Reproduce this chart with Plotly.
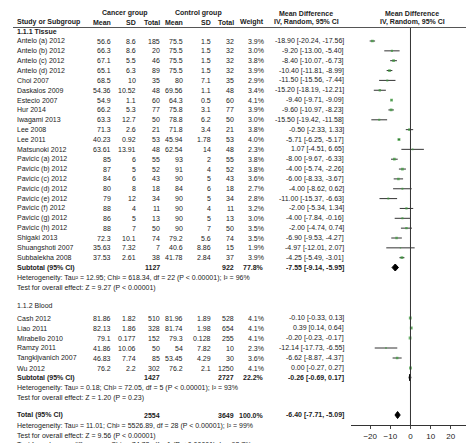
import plotly.graph_objects as go

W, H = 474, 443

# tissue studies
tissue_study = ["Antelo (a) 2012", "Antelo (b) 2012", "Antelo (c) 2012", "Antelo (d) 2012", "Choi 2007",
                "Daskalos 2009", "Estecio 2007", "Hur 2014", "Iwagami 2013", "Lee 2008", "Lee 2011",
                "Matsunoki 2012", "Pavicic (a) 2012", "Pavicic (b) 2012", "Pavicic (c) 2012", "Pavicic (d) 2012",
                "Pavicic (e) 2012", "Pavicic (f) 2012", "Pavicic (g) 2012", "Pavicic (h) 2012", "Shigaki 2013",
                "Shuangshoti 2007", "Subbalekha 2008"]
tissue_ca_mean = ["56.6", "66.3", "67.1", "65.1", "68.5", "54.36", "54.9", "66.2", "63.3", "71.3", "40.23", "63.61",
                  "85", "87", "84", "80", "79", "88", "86", "88", "72.3", "35.63", "37.53"]
tissue_ca_sd = ["8.6", "8.6", "5.5", "6.3", "10", "10.52", "1.1", "5.3", "12.7", "2.6", "0.92", "13.91",
                "6", "5", "6", "8", "12", "4", "5", "7", "10.1", "7.32", "2.61"]
tissue_ca_n = ["185", "20", "46", "89", "35", "48", "60", "77", "50", "21", "53", "48",
               "55", "52", "43", "18", "34", "11", "13", "50", "74", "7", "38"]
tissue_co_mean = ["75.5", "75.5", "75.5", "75.5", "80", "69.56", "64.3", "75.8", "78.8", "71.8", "45.94", "62.54",
                  "93", "91", "90", "84", "90", "90", "90", "90", "79.2", "40.6", "41.78"]
tissue_co_sd = ["1.5", "1.5", "1.5", "1.5", "7.1", "1.1", "0.5", "3.1", "6.2", "3.4", "1.78", "14",
                "2", "4", "5", "6", "5", "4", "5", "7", "5.6", "8.86", "2.84"]
tissue_co_n = ["32", "32", "32", "32", "35", "48", "60", "77", "50", "21", "53", "48",
               "55", "52", "43", "18", "34", "11", "13", "50", "74", "15", "37"]
tissue_w = [3.9, 3.0, 3.8, 3.9, 2.9, 3.4, 4.1, 3.9, 3.0, 3.8, 4.0, 2.3,
            3.8, 3.8, 3.6, 2.7, 2.8, 3.2, 3.0, 3.5, 3.5, 1.9, 3.9]
tissue_md = [-18.90, -9.20, -8.40, -10.40, -11.50, -15.20, -9.40, -9.60, -15.50, -0.50, -5.71, 1.07,
             -8.00, -4.00, -6.00, -4.00, -11.00, -2.00, -4.00, -2.00, -6.90, -4.97, -4.25]
tissue_lo = [-20.24, -13.00, -10.07, -11.81, -15.56, -18.19, -9.71, -10.97, -19.42, -2.33, -6.25, -4.51,
             -9.67, -5.74, -8.33, -8.62, -15.37, -5.34, -7.84, -4.74, -9.53, -12.01, -5.49]
tissue_hi = [-17.56, -5.40, -6.73, -8.99, -7.44, -12.21, -9.09, -8.23, -11.58, 1.33, -5.17, 6.65,
             -6.33, -2.26, -3.67, 0.62, -6.63, 1.34, -0.16, 0.74, -4.27, 2.07, -3.01]

# blood studies
blood_study = ["Cash 2012", "Liao 2011", "Mirabello 2010", "Ramzy 2011", "Tangkijvanich 2007", "Wu 2012"]
blood_ca_mean = ["81.86", "82.13", "79.1", "41.86", "46.83", "76.2"]
blood_ca_sd = ["1.82", "1.86", "0.177", "10.06", "7.74", "2.2"]
blood_ca_n = ["510", "328", "152", "50", "85", "302"]
blood_co_mean = ["81.96", "81.74", "79.3", "54", "53.45", "76.2"]
blood_co_sd = ["1.89", "1.98", "0.128", "7.82", "4.29", "2.1"]
blood_co_n = ["528", "654", "255", "10", "30", "1250"]
blood_w = [4.1, 4.1, 4.1, 2.3, 3.6, 4.1]
blood_md = [-0.10, 0.39, -0.20, -12.14, -6.62, 0.00]
blood_lo = [-0.33, 0.14, -0.23, -17.73, -8.87, -0.27]
blood_hi = [0.13, 0.64, -0.17, -6.55, -4.37, 0.27]

# pooled
pooled_name = ["Subtotal (95% CI)", "Subtotal (95% CI)", "Total (95% CI)"]
pooled_ca_n = ["1127", "1427", "2554"]
pooled_co_n = ["922", "2727", "3649"]
pooled_w = ["77.8%", "22.2%", "100.0%"]
pooled_md = [-7.55, -0.26, -6.40]
pooled_lo = [-9.14, -0.69, -7.71]
pooled_hi = [-5.95, 0.17, -5.09]

notes = {
    270: "Heterogeneity: Tau² = 12.95; Chi² = 618.34, df = 22 (P < 0.00001); I² = 96%",
    280: "Test for overall effect: Z = 9.27 (P < 0.00001)",
    380: "Heterogeneity: Tau² = 0.18; Chi² = 72.05, df = 5 (P < 0.00001); I² = 93%",
    390: "Test for overall effect: Z = 1.20 (P = 0.23)",
    418: "Heterogeneity: Tau² = 11.01; Chi² = 5526.89, df = 28 (P < 0.00001); I² = 99%",
    428: "Test for overall effect: Z = 9.56 (P < 0.00001)",
    437: "Test for subgroup differences: Chi² = 74.73, df = 1 (P < 0.00001), I² = 98.7%",
}

tissue_y = [33 + 9.85 * i for i in range(len(tissue_study))]
blood_y = [310 + 10 * i for i in range(len(blood_study))]
pooled_y = [259.5, 369.5, 407]

FONT = dict(family="Liberation Sans, Arial", size=7, color="#222")
ann = []


def txt(x, y, s, anchor="right", bold=False):
    ann.append(dict(x=x / W, y=1 - y / H, xref="paper", yref="paper", text=f"<b>{s}</b>" if bold else s,
                    showarrow=False, xanchor=anchor, yanchor="middle", font=FONT,
                    borderpad=0))


# headers
txt(117, 5, "Cancer group", "center", True)
txt(190, 5, "Control group", "center", True)
txt(298, 5, "Mean Difference", "center", True)
txt(404, 5, "Mean Difference", "center", True)
txt(8, 14.5, "Study or Subgroup", "left", True)
for x, s in [(104, "Mean"), (129, "SD"), (153, "Total"), (176, "Mean"), (204, "SD"), (227, "Total"), (257, "Weight")]:
    txt(x, 14.5, s, "right", True)
txt(298, 14.5, "IV, Random, 95% CI", "center", True)
txt(404, 14.5, "IV, Random, 95% CI", "center", True)
txt(8, 24, "1.1.1 Tissue", "left", True)
txt(8, 297, "1.1.2 Blood", "left")

cols = [104, 129, 153, 176, 204, 227]


def rows(ys, names, cm, cs, cn, om, os_, on, w, md, lo, hi):
    for i, y in enumerate(ys):
        txt(8, y, names[i], "left")
        for x, v in zip(cols, [cm[i], cs[i], cn[i], om[i], os_[i], on[i]]):
            txt(x, y, v)
        txt(257, y, f"{w[i]:.1f}%")
        txt(337, y, f"{md[i]:.2f} [{lo[i]:.2f}, {hi[i]:.2f}]")


rows(tissue_y, tissue_study, tissue_ca_mean, tissue_ca_sd, tissue_ca_n, tissue_co_mean, tissue_co_sd, tissue_co_n,
     tissue_w, tissue_md, tissue_lo, tissue_hi)
rows(blood_y, blood_study, blood_ca_mean, blood_ca_sd, blood_ca_n, blood_co_mean, blood_co_sd, blood_co_n,
     blood_w, blood_md, blood_lo, blood_hi)
for i, y in enumerate(pooled_y):
    txt(8, y, pooled_name[i], "left", True)
    txt(153, y, pooled_ca_n[i], bold=True)
    txt(227, y, pooled_co_n[i], bold=True)
    txt(257, y, pooled_w[i], bold=True)
    txt(337, y, f"{pooled_md[i]:.2f} [{pooled_lo[i]:.2f}, {pooled_hi[i]:.2f}]", bold=True)
for y, s in notes.items():
    txt(8, y, s, "left")

fig = go.Figure()
all_y = tissue_y + blood_y
all_md = tissue_md + blood_md
all_lo = tissue_lo + blood_lo
all_hi = tissue_hi + blood_hi
all_w = tissue_w + blood_w

lx, ly = [], []
for y, lo, hi in zip(all_y, all_lo, all_hi):
    lx += [lo, hi, None]
    ly += [y, y, None]
fig.add_trace(go.Scatter(x=lx, y=ly, mode="lines", line=dict(color="#333", width=1), xaxis="x", yaxis="y"))
fig.add_trace(go.Scatter(x=all_md, y=all_y, mode="markers", xaxis="x", yaxis="y",
                         marker=dict(symbol="square", color="#3a9a3a", size=[w * 0.7 for w in all_w],
                                     line=dict(width=0))))
for y, m, lo, hi in zip(pooled_y, pooled_md, pooled_lo, pooled_hi):
    fig.add_trace(go.Scatter(x=[lo, m, hi, m, lo], y=[y, y - 3.5, y, y + 3.5, y], mode="lines", fill="toself",
                             fillcolor="black", line=dict(color="black", width=1), xaxis="x", yaxis="y"))
fig.add_trace(go.Scatter(x=[0, 0], y=[19, 417], mode="lines", line=dict(color="#333", width=1),
                         xaxis="x", yaxis="y"))

fig.add_shape(type="line", xref="paper", yref="paper", x0=5 / W, x1=1, y0=1 - 19.5 / H, y1=1 - 19.5 / H,
              line=dict(color="#555", width=1))

fig.update_layout(
    width=W, height=H, margin=dict(l=0, r=0, t=0, b=0), showlegend=False,
    paper_bgcolor="white", plot_bgcolor="white", annotations=ann,
    xaxis=dict(domain=[343 / W, 466 / W], range=[-29.5, 31.5], tickvals=[-20, -10, 0, 10, 20],
               showgrid=False, zeroline=False, showline=True, linecolor="#333", ticks="outside",
               ticklen=3, tickfont=dict(family="Liberation Sans, Arial", size=8, color="#222"), anchor="y"),
    yaxis=dict(domain=[1 - 417 / H, 1 - 19.5 / H], range=[417, 19.5], visible=False, showgrid=False),
)
fig.write_html("out.html")
